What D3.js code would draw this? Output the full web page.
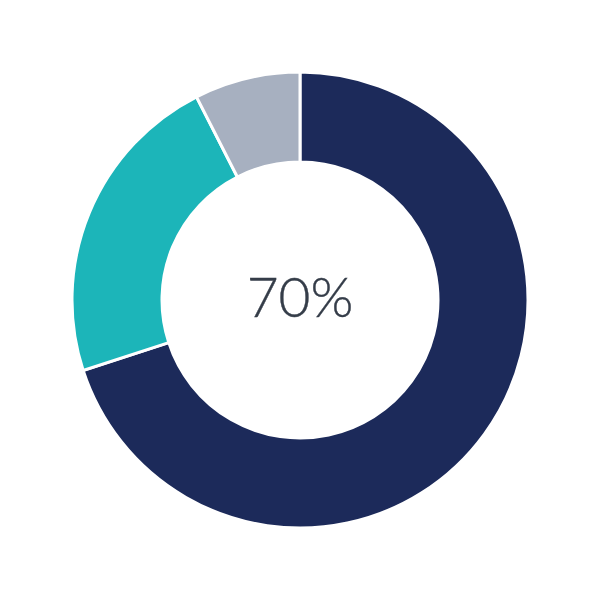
<!DOCTYPE html>
<html><head><meta charset="utf-8">
<script src="https://cdn.jsdelivr.net/npm/d3@7/dist/d3.min.js"></script>
<style>body{margin:0;background:#fff}svg{display:block}</style>
</head><body>
<svg id="chart" width="600" height="600"></svg>
<script>
const categories = ["A", "B", "C"];
const values = [70, 22.5, 7.5];
const colors = ["#1c2a5a", "#1cb5b9", "#a7b0c0"];
const centerLabel = "70%";

const svg = d3.select("#chart");
const g = svg.append("g").attr("transform", "translate(300,300)");
const pie = d3.pie().sort(null).value(d => d.v);
const arc = d3.arc().innerRadius(138).outerRadius(228);
const data = categories.map((c, i) => ({c, v: values[i]}));
g.selectAll("path").data(pie(data)).join("path")
  .attr("d", arc)
  .attr("fill", (d, i) => colors[i])
  .attr("stroke", "#fff")
  .attr("stroke-width", 3);
g.append("text").text(centerLabel)
  .attr("text-anchor", "middle")
  .attr("dy", "0.3em")
  .attr("font-family", "Lato, sans-serif")
  .attr("font-weight", 300)
  .attr("font-size", 55)
  .attr("fill", "#353d49")
  .attr("stroke", "#353d49")
  .attr("stroke-width", 0.4);
</script>
</body></html>
